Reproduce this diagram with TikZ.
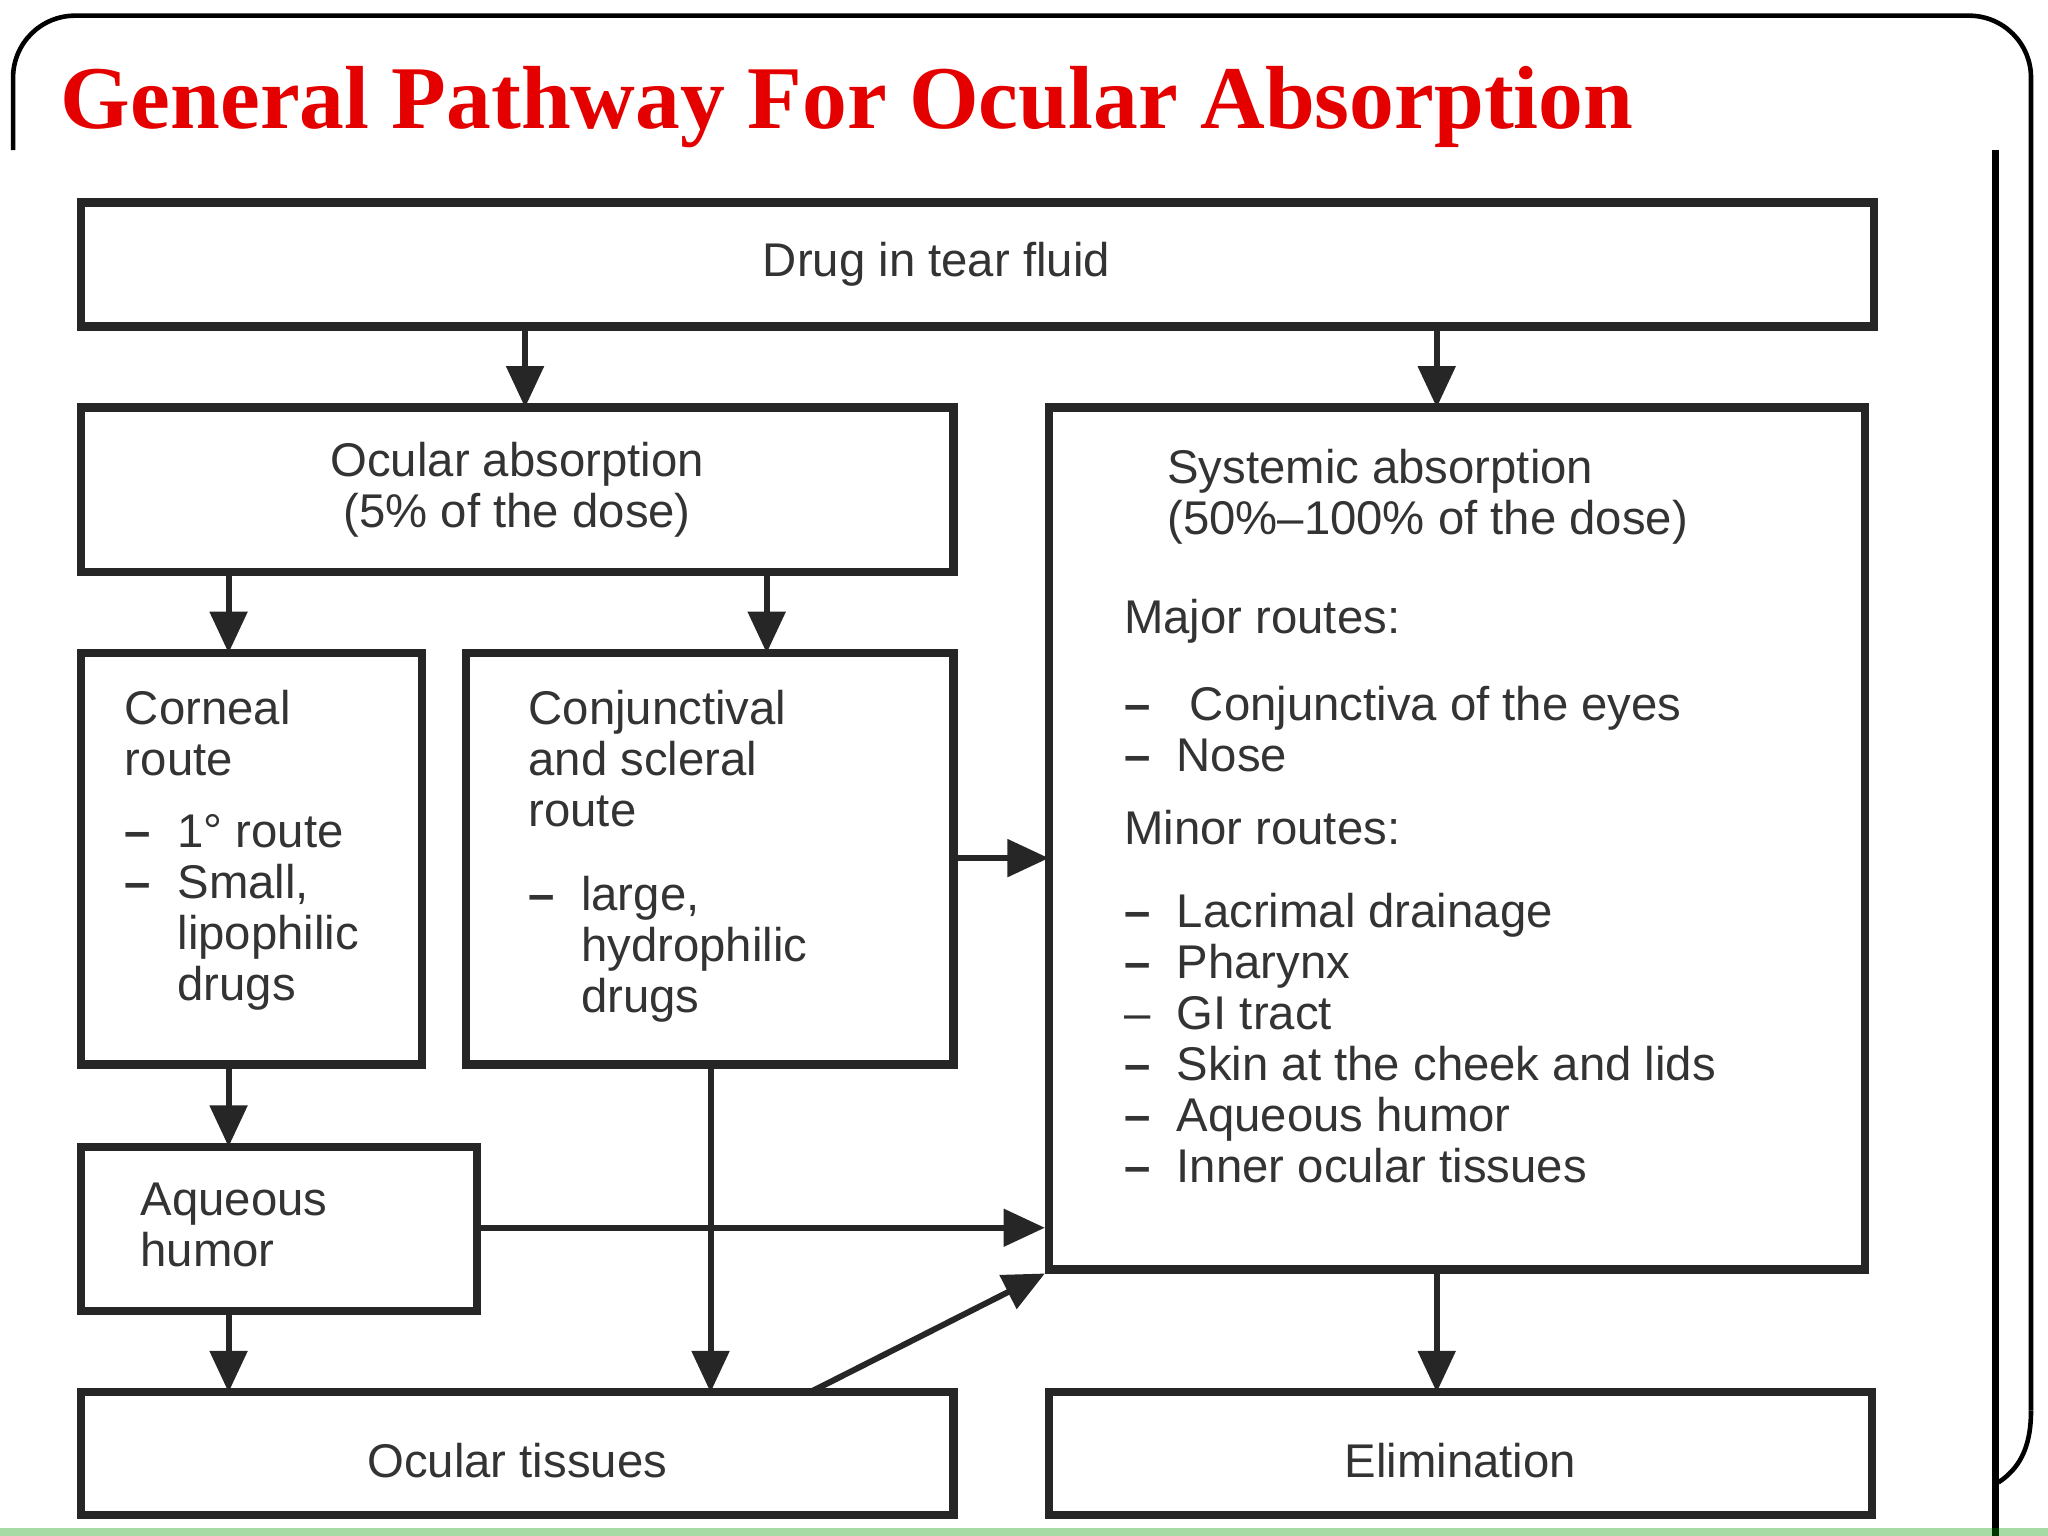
\documentclass[tikz,border=0pt]{standalone}
\usepackage{fontspec}
\setmainfont{Liberation Sans}
\newfontfamily\titlefont{Liberation Serif}
\usetikzlibrary{arrows.meta}
\begin{document}
\begin{tikzpicture}[x=0.01cm,y=-0.01cm,
  box/.style={draw=black!85,line width=1.8pt},
  arr/.style={-{Triangle[length=9pt,width=8pt]},line width=1.3pt,draw=black!85},
  txt/.style={font=\fontsize{10.3}{11.1}\selectfont,text=black!80,align=left,anchor=north west,inner sep=0pt},
  ctr/.style={font=\fontsize{10.3}{11.1}\selectfont,text=black!80,align=center,inner sep=0pt}]
\useasboundingbox (0,0) rectangle (1568,1176);
% slide frame
\draw[line width=1pt,rounded corners=13.5pt] (10,115) -- (10,12) -- (1555,12) -- (1555,1080);
\draw[line width=1pt] (1555,1080) .. controls (1555,1110) and (1545,1125) .. (1530,1135);
\draw[line width=1.5pt] (1528,115) -- (1528,1176);
\fill[green!60!black,opacity=0.35] (0,1170) rectangle (1568,1176);
\node[anchor=west,inner sep=0pt,font=\titlefont\bfseries\fontsize{19.5}{22}\selectfont,text=red!90!black] (title) at (46,82) {General Pathway For Ocular Absorption};
% boxes
\draw[box] (62,155) rectangle (1435,250);
\node[ctr] (drug) at (717,202) {Drug in tear fluid};
\coordinate (dA) at (402,250); \coordinate (dB) at (1100,250);
\draw[box] (62,312) rectangle (730,438);
\node[ctr] (ocu) at (396,375) {Ocular absorption\\(5\% of the dose)};
\coordinate (oT) at (402,312); \coordinate (oA) at (175,438); \coordinate (oB) at (587,438);
\draw[box] (803,312) rectangle (1428,972);
\coordinate (sT) at (1100,312); \coordinate (sB) at (1100,972);
\node[txt] (sys) at (893,343) {Systemic absorption\\(50\%--100\% of the dose)};
\node[txt] (maj) at (860,458) {Major routes:};
\node[txt] (majl) at (860,525) {\textbf{--}\ \ \ Conjunctiva of the eyes\\\textbf{--}\ \ Nose};
\node[txt] (min) at (860,620) {Minor routes:};
\node[txt] (minl) at (860,683) {\textbf{--}\ \ Lacrimal drainage\\\textbf{--}\ \ Pharynx\\--\ \ GI tract\\\textbf{--}\ \ Skin at the cheek and lids\\\textbf{--}\ \ Aqueous humor\\\textbf{--}\ \ Inner ocular tissues};
\draw[box] (62,500) rectangle (323,815);
\coordinate (cT) at (175,500); \coordinate (cB) at (175,815);
\node[txt] (cor) at (95,528) {Corneal\\route};
\node[txt] (corl) at (95,623) {\textbf{--}\ \ 1\textdegree\ route\\\textbf{--}\ \ Small,\\\phantom{\textbf{--}\ \ }lipophilic\\\phantom{\textbf{--}\ \ }drugs};
\draw[box] (357,500) rectangle (730,815);
\coordinate (jT) at (587,500); \coordinate (jB) at (544,815); \coordinate (jR) at (730,657);
\node[txt] (con) at (404,528) {Conjunctival\\and scleral\\route};
\node[txt] (conl) at (404,670) {\textbf{--}\ \ large,\\\phantom{\textbf{--}\ \ }hydrophilic\\\phantom{\textbf{--}\ \ }drugs};
\draw[box] (62,878) rectangle (365,1004);
\coordinate (aT) at (175,878); \coordinate (aB) at (175,1004); \coordinate (aR) at (365,940);
\node[txt] (aq) at (107,905) {Aqueous\\humor};
\draw[box] (62,1066) rectangle (730,1160);
\node[ctr] (tis) at (396,1118) {Ocular tissues};
\coordinate (tA) at (175,1066); \coordinate (tB) at (544,1066); \coordinate (tC) at (620,1066);
\draw[box] (803,1066) rectangle (1433,1160);
\node[ctr] (eli) at (1118,1118) {Elimination};
\coordinate (eT) at (1100,1066);
% arrows
\draw[arr] (dA) -- (oT);
\draw[arr] (dB) -- (sT);
\draw[arr] (oA) -- (cT);
\draw[arr] (oB) -- (jT);
\draw[arr] (cB) -- (aT);
\draw[arr] (aB) -- (tA);
\draw[arr] (jB) -- (tB);
\draw[arr] (jR) -- (803,657);
\draw[arr] (aR) -- (800,940);
\draw[arr] (tC) -- (800,975);
\draw[arr] (sB) -- (eT);
\end{tikzpicture}
\end{document}
